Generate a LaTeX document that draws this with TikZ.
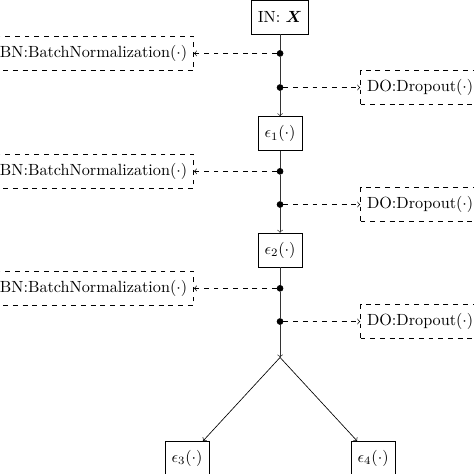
\documentclass[tikz,border=0pt]{standalone}
\usepackage{amsmath}
\usepackage{amssymb}
\usepackage{bm}
\usetikzlibrary{calc,arrows,shapes,positioning}
\tikzset{
    block/.style={
    rectangle,draw=black,inner xsep=4pt,minimum height=21pt
    },
    dblock/.style={
    rectangle,dashed,draw=black,inner xsep=4pt,minimum height=21pt
    },
    junction/.style={
    circle,fill=black,draw=black,inner sep=1.3pt
    },
    flow/.style={
    ->,draw=black!80
    },
    dflow/.style={
    ->,dashed,draw=black
    },
}
\begin{document}
\begin{tikzpicture}
  \clip (-6.08,0.37) rectangle (4.21,-9.92);
  \node[block] (IN) at (0,0) {IN: $\bm{X}$};
  \node[junction] (J1) at (0,-0.79) {};
  \node[junction] (J2) at (0,-1.53) {};
  \node[block] (E1) at (0,-2.53) {$\epsilon_1(\cdot)$};
  \node[junction] (J3) at (0,-3.35) {};
  \node[junction] (J4) at (0,-4.07) {};
  \node[block] (E2) at (0,-5.06) {$\epsilon_2(\cdot)$};
  \node[junction] (J5) at (0,-5.89) {};
  \node[junction] (J6) at (0,-6.61) {};
  \coordinate (SPLIT) at (0,-7.39);
  \node[block] (E3) at (-2.02,-9.58) {$\epsilon_3(\cdot)$};
  \node[block] (E4) at (2.02,-9.58) {$\epsilon_4(\cdot)$};

  \node[dblock,anchor=east] (BN1) at (-1.87,-0.79) {BN:BatchNormalization$(\cdot)$};
  \node[dblock,anchor=west] (DO1) at (1.74,-1.53) {DO:Dropout$(\cdot)$};
  \node[dblock,anchor=east] (BN2) at (-1.87,-3.35) {BN:BatchNormalization$(\cdot)$};
  \node[dblock,anchor=west] (DO2) at (1.74,-4.07) {DO:Dropout$(\cdot)$};
  \node[dblock,anchor=east] (BN3) at (-1.87,-5.89) {BN:BatchNormalization$(\cdot)$};
  \node[dblock,anchor=west] (DO3) at (1.74,-6.61) {DO:Dropout$(\cdot)$};

  \draw[flow] (IN) -- (J1) -- (J2) -- (E1);
  \draw[flow] (E1) -- (J3) -- (J4) -- (E2);
  \draw[flow] (E2) -- (J5) -- (J6) -- (SPLIT);

  \path[dflow]
    (J1) edge (BN1)
    (J2) edge (DO1)
    (J3) edge (BN2)
    (J4) edge (DO2)
    (J5) edge (BN3)
    (J6) edge (DO3);
  \path[->]
    (SPLIT) edge (E3)
            edge (E4);

\end{tikzpicture}
\end{document}
